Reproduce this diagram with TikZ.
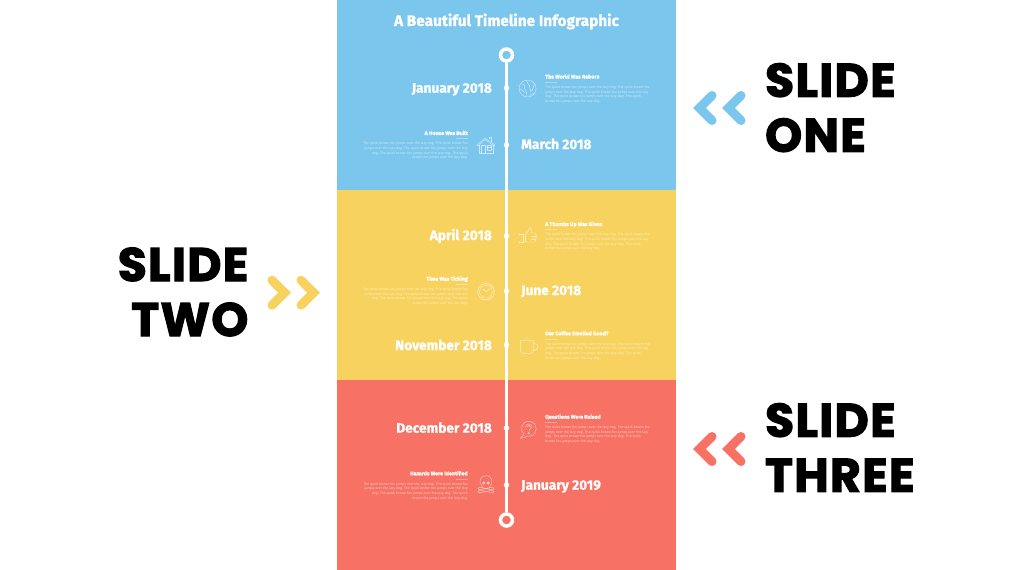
\documentclass[tikz,border=0pt]{standalone}
\usepackage{fontspec}
\setmainfont{Open Sans}
\newfontfamily\headfont{Poppins}[BoldFont={Poppins Bold},BoldFeatures={FakeBold=2.5,LetterSpace=3}]
\newfontfamily\datefont{Fira Sans}[BoldFont={Fira Sans Bold},BoldFeatures={FakeBold=1}]
\usetikzlibrary{calc}
\definecolor{bluep}{HTML}{7BC6ED}
\definecolor{yellowp}{HTML}{F8D25F}
\definecolor{redp}{HTML}{F77264}
\newcommand{\slidefont}{\headfont\bfseries\fontsize{47}{50}\selectfont}
\newcommand{\bodyR}{The quick brown fox jumps over the lazy dog. The quick brown fox\\jumps over the lazy dog. The quick brown fox jumps over the lazy\\dog. The quick brown fox jumps over the lazy dog. The quick\\brown fox jumps over the lazy dog.}
\tikzset{
  x=1pt,y=-1pt,
  datelabel/.style={text=white,inner sep=0pt,font=\datefont\bfseries\fontsize{13.7}{15}\selectfont},
  headlabel/.style={text=white,inner sep=0pt,font=\datefont\bfseries\fontsize{5.3}{6}\selectfont},
  bodyl/.style={text=white,text opacity=.68,inner sep=0pt,align=left,anchor=north west,font=\fontsize{3.4}{4.7}\selectfont},
  bodyr/.style={text=white,text opacity=.68,inner sep=0pt,align=right,anchor=north east,font=\fontsize{3.4}{4.7}\selectfont},
  rule/.style={white,opacity=.35,line width=.3pt},
  icon/.style={white,opacity=.6,line width=.45pt,line join=round,line cap=round},
  dot/.style={circle,fill=white,inner sep=0pt,minimum size=5.5pt},
  endring/.style={circle,draw=white,fill=none,line width=3.5pt,inner sep=0pt,minimum size=12pt},
  slidelabel/.style={text=black,inner sep=0pt,font=\slidefont},
  chev/.style={line width=9pt,line cap=round,line join=miter,miter limit=4},
}
\begin{document}
\begin{tikzpicture}
\useasboundingbox (0,0) rectangle (1013,570);
\fill[white] (0,0) rectangle (1013,570);
\fill[bluep] (337,0) rectangle (676,190);
\fill[yellowp] (337,190) rectangle (676,380);
\fill[redp] (337,380) rectangle (676,570);
\node[text=white,inner sep=0pt,anchor=base,font=\datefont\bfseries\fontsize{15.4}{17}\selectfont] (title) at (506.5,26) {A Beautiful Timeline Infographic};

\node[endring] (top) at (506.5,55) {};
\node[endring] (bot) at (506.5,520) {};
\draw[white,line width=2.1pt] (top) -- (bot);
\foreach \n/\y in {a/88,b/145,c/236,d/291,e/345,f/428,g/485}{\node[dot] (\n) at (506.5,\y) {};}

% dates
\node[datelabel,anchor=base east] (da) at (492,92.7) {January 2018};
\node[datelabel,anchor=base west] (db) at (521,149) {March 2018};
\node[datelabel,anchor=base east] (dc) at (492,240) {April 2018};
\node[datelabel,anchor=base west] (dd) at (521,295) {June 2018};
\node[datelabel,anchor=base east] (de) at (492,350) {November 2018};
\node[datelabel,anchor=base east] (df) at (492,432.7) {December 2018};
\node[datelabel,anchor=base west] (dg) at (521,489.7) {January 2019};

% right-hand texts
\foreach \n/\y/\t in {ta/78.5/The World Was Reborn,tc/226/A Thumbs Up Was Given,te/335.3/Our Coffee Smelled Good?,tf/418.7/Questions Were Raised}{
  \node[headlabel,anchor=base west] (\n) at (545,\y) {\t};
  \draw[rule] (545,\y+3.5) -- (557,\y+3.5);
  \node[bodyl] (\n b) at (545,\y+7) {\bodyR};
}
% left-hand texts
\foreach \n/\y/\t in {tb/135/A House Was Built,td/280.7/Time Was Ticking,tg/475.3/Hazards Were Identified}{
  \node[headlabel,anchor=base east] (\n) at (468,\y) {\t};
  \draw[rule] (456,\y+3.5) -- (468,\y+3.5);
  \node[bodyr] (\n b) at (468,\y+7) {\bodyR};
}

% globe
\begin{scope}[icon,shift={(527.6,88.5)}]
\draw (0,0) circle (8.5);
\draw (-6,-5) .. controls (-3,-4) and (-2,-2) .. (-3,0) .. controls (-2,1) and (-1,3) .. (-1,7);
\draw (-1,-8) .. controls (0,-5) and (1,-3) .. (2,-3) .. controls (3,0) and (2,1) .. (3,3) .. controls (4,2) and (6,1) .. (6,-2) .. controls (7,-3) and (7,-4) .. (6,-6);
\draw (-8,0) .. controls (-6,2) and (-4,2) .. (-3,4);
\draw (2,7) .. controls (4,5) and (5,5) .. (6,5);
\end{scope}
% house
\begin{scope}[icon,shift={(486,145)}]
\draw (-9,0) -- (-1,-7) -- (9,0) -- (8,1) -- (-1,-5.5) -- (-8,1) -- cycle;
\draw (-7,0) -- (-7,8) -- (7,8) -- (7,0);
\draw (-5,8) -- (-5,0) -- (-1,0) -- (-1,8);
\draw (1,0) rectangle (5.5,5);
\draw (1,2.5) -- (5.5,2.5);
\draw (3,-6) -- (3,-7.5) -- (5,-7.5) -- (5,-3);
\end{scope}
% thumb
\begin{scope}[icon,shift={(527.5,235)}]
\draw (-2,-1) .. controls (0,-3) and (2,-4) .. (2,-7.5) .. controls (4,-7.5) and (5,-5) .. (4,-2) -- (8,-2) .. controls (9,-1) and (9,6) .. (7,7) -- (-2,7);
\draw (-2,-1) -- (-2,7);
\draw (4,1) -- (9,1) (4,4) -- (8.5,4);
\draw (-8.5,-1) -- (-4,-1) -- (-4,7) -- (-8.5,7);
\end{scope}
% clock
\begin{scope}[icon,shift={(486,291.7)},line width=.7pt]
\draw (0,0) circle (8.3);
\draw[line width=.45pt] (0,0) circle (6.4);
\draw (0,0) -- (-3,-2.5) (0,0) -- (4,-3);
\end{scope}
% cup
\begin{scope}[icon,shift={(527,347)}]
\draw (-6.7,-6.3) -- (6.7,-6.3) -- (6.7,2) .. controls (6.7,5.5) and (4,6.7) .. (2,6.7) -- (-2,6.7) .. controls (-4,6.7) and (-6.7,5.5) .. (-6.7,2) -- cycle;
\draw (6.7,-3.5) .. controls (12.5,-4.5) and (12.5,3.5) .. (6,3.5);
\draw (-2,-7.5) .. controls (-3,-8.5) and (-1,-9.5) .. (-2,-10.5) (0,-7.5) .. controls (-1,-8.5) and (1,-9.5) .. (0,-10.5) (2,-7.5) .. controls (1,-8.5) and (3,-9.5) .. (2,-10.5);
\end{scope}
% question
\begin{scope}[icon,shift={(528.5,429)}]
\draw (-4.5,5.6) .. controls (-9,1) and (-7,-7.7) .. (0,-7.7) .. controls (5,-7.7) and (7.6,-4) .. (7.6,0) .. controls (7.6,5) and (3,8) .. (-1.5,7.2) .. controls (-3,8.5) and (-6,9.3) .. (-8.5,9.3) .. controls (-7,8) and (-5.5,7) .. (-4.5,5.6);
\draw (-3,-2) .. controls (-3,-6) and (3.5,-6) .. (3.5,-2) .. controls (3.5,0) and (0.3,-0.5) .. (0.3,2.2);
\draw (-1.6,-2) .. controls (-1.5,-4.3) and (2,-4.3) .. (2,-2);
\draw (0.3,4.3) circle (.9);
\end{scope}
% skull
\begin{scope}[icon,shift={(486,484.5)}]
\draw (-4,1.5) .. controls (-8,-2) and (-6,-8.8) .. (0,-8.8) .. controls (6,-8.8) and (8,-2) .. (4,1.5) -- (3,4) -- (-3,4) -- cycle;
\fill[white,draw=none] (-2.3,-1.5) circle (1.6) (2.3,-1.5) circle (1.6);
\draw (-6.5,2.5) .. controls (-8.5,2.5) and (-8.5,5.5) .. (-6.5,5.5) -- (6.5,8.5) .. controls (8.5,8.5) and (8.5,5.5) .. (6.5,5.5) -- cycle;
\draw (6.5,2.5) .. controls (8.5,2.5) and (8.5,5.5) .. (6.5,5.5) -- (-6.5,8.5) .. controls (-8.5,8.5) and (-8.5,5.5) .. (-6.5,5.5) -- cycle;
\end{scope}

% slide labels
\node[slidelabel,anchor=base west] (s1a) at (765,96.7) {SLIDE};
\node[slidelabel,anchor=base west] (s1b) at (765,151.7) {ONE};
\node[slidelabel,anchor=base east] (s2a) at (248.5,281) {SLIDE};
\node[slidelabel,anchor=base east] (s2b) at (248.5,336) {TWO};
\node[slidelabel,anchor=base west] (s3a) at (765,436.7) {SLIDE};
\node[slidelabel,anchor=base west] (s3b) at (765,491.7) {THREE};

% chevrons
\foreach \y/\c in {108/bluep,449/redp}{
  \draw[chev,\c] (712,\y-12.5) -- (699.4,\y) -- (712,\y+12.5);
  \draw[chev,\c] (741,\y-12.5) -- (728.4,\y) -- (741,\y+12.5);
}
\draw[chev,yellowp] (272,280.2) -- (284.6,292.7) -- (272,305.2);
\draw[chev,yellowp] (301,280.2) -- (313.6,292.7) -- (301,305.2);
\end{tikzpicture}
\end{document}
